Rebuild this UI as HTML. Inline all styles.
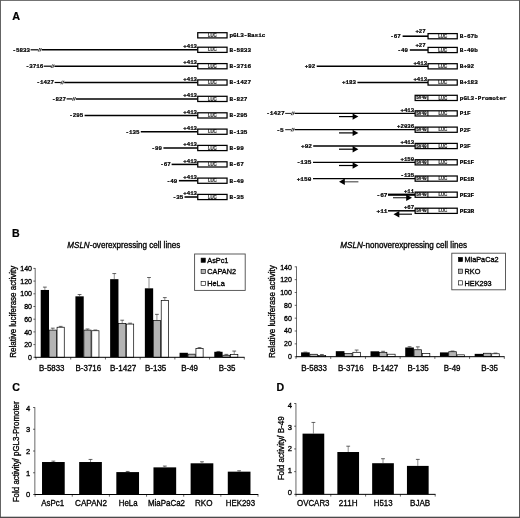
<!DOCTYPE html>
<html lang="en">
<head>
<meta charset="utf-8">
<title>MSLN promoter constructs and luciferase activity</title>
<style>
html,body{margin:0;padding:0;background:#fff;}
body{width:520px;height:518px;overflow:hidden;}
#fig{position:relative;width:520px;height:518px;background:#fff;}
svg{position:absolute;left:0;top:0;display:block;}
text{font-family:"Liberation Sans", sans-serif;fill:#000;stroke:#000;stroke-width:0.2px;}
text.h{stroke-width:0.32px;}
text.m{font-family:"Liberation Mono", monospace;stroke:#000;stroke-width:0.22px;}
</style>
</head>
<body>
<div id="fig">
<svg width="520" height="518" viewBox="0 0 520 518">
<rect x="197.75" y="32.70" width="29.30" height="5.20" fill="#fff" stroke="#000" stroke-width="1.25"/>
<text x="212.40" y="36.95" font-size="4.8" text-anchor="middle" textLength="8.80" lengthAdjust="spacingAndGlyphs" fill="#777">LUC</text>
<line x1="207.80" y1="35.70" x2="217.00" y2="35.70" stroke="#999" stroke-width="0.6"/>
<text x="229.40" y="37.20" font-size="6.0" class="m" font-weight="bold" textLength="36.00" lengthAdjust="spacingAndGlyphs">pGL3-Basic</text>
<text x="30.00" y="51.70" font-size="6.0" text-anchor="end" class="m" font-weight="bold" textLength="17.50" lengthAdjust="spacingAndGlyphs">-5833</text>
<line x1="30.60" y1="49.80" x2="38.20" y2="49.80" stroke="#000" stroke-width="1.2"/>
<line x1="38.30" y1="51.60" x2="39.70" y2="48.00" stroke="#000" stroke-width="0.8"/>
<line x1="39.90" y1="51.60" x2="41.30" y2="48.00" stroke="#000" stroke-width="0.8"/>
<line x1="41.60" y1="49.80" x2="197.70" y2="49.80" stroke="#000" stroke-width="1.55"/>
<text x="197.00" y="48.00" font-size="6.0" text-anchor="end" class="m" font-weight="bold" textLength="13.68" lengthAdjust="spacingAndGlyphs">+413</text>
<rect x="197.75" y="47.20" width="29.30" height="5.20" fill="#fff" stroke="#000" stroke-width="1.25"/>
<text x="212.40" y="51.45" font-size="4.8" text-anchor="middle" textLength="8.80" lengthAdjust="spacingAndGlyphs" fill="#777">LUC</text>
<line x1="207.80" y1="50.20" x2="217.00" y2="50.20" stroke="#999" stroke-width="0.6"/>
<text x="229.40" y="51.70" font-size="6.0" class="m" font-weight="bold" textLength="21.60" lengthAdjust="spacingAndGlyphs">B-5833</text>
<text x="43.20" y="68.10" font-size="6.0" text-anchor="end" class="m" font-weight="bold" textLength="17.50" lengthAdjust="spacingAndGlyphs">-3716</text>
<line x1="43.70" y1="66.20" x2="51.00" y2="66.20" stroke="#000" stroke-width="1.2"/>
<line x1="51.10" y1="68.00" x2="52.50" y2="64.40" stroke="#000" stroke-width="0.8"/>
<line x1="52.70" y1="68.00" x2="54.10" y2="64.40" stroke="#000" stroke-width="0.8"/>
<line x1="54.40" y1="66.20" x2="197.70" y2="66.20" stroke="#000" stroke-width="1.55"/>
<text x="197.00" y="64.40" font-size="6.0" text-anchor="end" class="m" font-weight="bold" textLength="13.68" lengthAdjust="spacingAndGlyphs">+413</text>
<rect x="197.75" y="63.60" width="29.30" height="5.20" fill="#fff" stroke="#000" stroke-width="1.25"/>
<text x="212.40" y="67.85" font-size="4.8" text-anchor="middle" textLength="8.80" lengthAdjust="spacingAndGlyphs" fill="#777">LUC</text>
<line x1="207.80" y1="66.60" x2="217.00" y2="66.60" stroke="#999" stroke-width="0.6"/>
<text x="229.40" y="68.10" font-size="6.0" class="m" font-weight="bold" textLength="21.60" lengthAdjust="spacingAndGlyphs">B-3716</text>
<text x="54.00" y="84.40" font-size="6.0" text-anchor="end" class="m" font-weight="bold" textLength="17.50" lengthAdjust="spacingAndGlyphs">-1427</text>
<line x1="54.60" y1="82.50" x2="60.80" y2="82.50" stroke="#000" stroke-width="1.2"/>
<line x1="60.90" y1="84.30" x2="62.30" y2="80.70" stroke="#000" stroke-width="0.8"/>
<line x1="62.50" y1="84.30" x2="63.90" y2="80.70" stroke="#000" stroke-width="0.8"/>
<line x1="64.20" y1="82.50" x2="197.70" y2="82.50" stroke="#000" stroke-width="1.55"/>
<text x="197.00" y="80.70" font-size="6.0" text-anchor="end" class="m" font-weight="bold" textLength="13.68" lengthAdjust="spacingAndGlyphs">+413</text>
<rect x="197.75" y="79.90" width="29.30" height="5.20" fill="#fff" stroke="#000" stroke-width="1.25"/>
<text x="212.40" y="84.15" font-size="4.8" text-anchor="middle" textLength="8.80" lengthAdjust="spacingAndGlyphs" fill="#777">LUC</text>
<line x1="207.80" y1="82.90" x2="217.00" y2="82.90" stroke="#999" stroke-width="0.6"/>
<text x="229.40" y="84.40" font-size="6.0" class="m" font-weight="bold" textLength="21.60" lengthAdjust="spacingAndGlyphs">B-1427</text>
<text x="66.00" y="100.80" font-size="6.0" text-anchor="end" class="m" font-weight="bold" textLength="14.00" lengthAdjust="spacingAndGlyphs">-827</text>
<line x1="66.60" y1="98.90" x2="72.40" y2="98.90" stroke="#000" stroke-width="1.2"/>
<line x1="72.50" y1="100.70" x2="73.90" y2="97.10" stroke="#000" stroke-width="0.8"/>
<line x1="74.10" y1="100.70" x2="75.50" y2="97.10" stroke="#000" stroke-width="0.8"/>
<line x1="75.80" y1="98.90" x2="197.70" y2="98.90" stroke="#000" stroke-width="1.55"/>
<text x="197.00" y="97.10" font-size="6.0" text-anchor="end" class="m" font-weight="bold" textLength="13.68" lengthAdjust="spacingAndGlyphs">+413</text>
<rect x="197.75" y="96.30" width="29.30" height="5.20" fill="#fff" stroke="#000" stroke-width="1.25"/>
<text x="212.40" y="100.55" font-size="4.8" text-anchor="middle" textLength="8.80" lengthAdjust="spacingAndGlyphs" fill="#777">LUC</text>
<line x1="207.80" y1="99.30" x2="217.00" y2="99.30" stroke="#999" stroke-width="0.6"/>
<text x="229.40" y="100.80" font-size="6.0" class="m" font-weight="bold" textLength="18.00" lengthAdjust="spacingAndGlyphs">B-827</text>
<text x="83.30" y="117.30" font-size="6.0" text-anchor="end" class="m" font-weight="bold" textLength="14.00" lengthAdjust="spacingAndGlyphs">-295</text>
<line x1="84.60" y1="115.40" x2="197.70" y2="115.40" stroke="#000" stroke-width="1.55"/>
<text x="197.00" y="113.60" font-size="6.0" text-anchor="end" class="m" font-weight="bold" textLength="13.68" lengthAdjust="spacingAndGlyphs">+413</text>
<rect x="197.75" y="112.80" width="29.30" height="5.20" fill="#fff" stroke="#000" stroke-width="1.25"/>
<text x="212.40" y="117.05" font-size="4.8" text-anchor="middle" textLength="8.80" lengthAdjust="spacingAndGlyphs" fill="#777">LUC</text>
<line x1="207.80" y1="115.80" x2="217.00" y2="115.80" stroke="#999" stroke-width="0.6"/>
<text x="229.40" y="117.30" font-size="6.0" class="m" font-weight="bold" textLength="18.00" lengthAdjust="spacingAndGlyphs">B-295</text>
<text x="139.60" y="133.60" font-size="6.0" text-anchor="end" class="m" font-weight="bold" textLength="14.00" lengthAdjust="spacingAndGlyphs">-135</text>
<line x1="140.80" y1="131.70" x2="197.70" y2="131.70" stroke="#000" stroke-width="1.55"/>
<text x="197.00" y="129.90" font-size="6.0" text-anchor="end" class="m" font-weight="bold" textLength="13.68" lengthAdjust="spacingAndGlyphs">+413</text>
<rect x="197.75" y="129.10" width="29.30" height="5.20" fill="#fff" stroke="#000" stroke-width="1.25"/>
<text x="212.40" y="133.35" font-size="4.8" text-anchor="middle" textLength="8.80" lengthAdjust="spacingAndGlyphs" fill="#777">LUC</text>
<line x1="207.80" y1="132.10" x2="217.00" y2="132.10" stroke="#999" stroke-width="0.6"/>
<text x="229.40" y="133.60" font-size="6.0" class="m" font-weight="bold" textLength="18.00" lengthAdjust="spacingAndGlyphs">B-135</text>
<text x="162.10" y="149.90" font-size="6.0" text-anchor="end" class="m" font-weight="bold" textLength="10.50" lengthAdjust="spacingAndGlyphs">-99</text>
<line x1="163.40" y1="148.00" x2="197.70" y2="148.00" stroke="#000" stroke-width="1.55"/>
<text x="197.00" y="146.20" font-size="6.0" text-anchor="end" class="m" font-weight="bold" textLength="13.68" lengthAdjust="spacingAndGlyphs">+413</text>
<rect x="197.75" y="145.40" width="29.30" height="5.20" fill="#fff" stroke="#000" stroke-width="1.25"/>
<text x="212.40" y="149.65" font-size="4.8" text-anchor="middle" textLength="8.80" lengthAdjust="spacingAndGlyphs" fill="#777">LUC</text>
<line x1="207.80" y1="148.40" x2="217.00" y2="148.40" stroke="#999" stroke-width="0.6"/>
<text x="229.40" y="149.90" font-size="6.0" class="m" font-weight="bold" textLength="14.40" lengthAdjust="spacingAndGlyphs">B-99</text>
<text x="170.70" y="166.30" font-size="6.0" text-anchor="end" class="m" font-weight="bold" textLength="10.50" lengthAdjust="spacingAndGlyphs">-67</text>
<line x1="171.60" y1="164.40" x2="197.70" y2="164.40" stroke="#000" stroke-width="1.55"/>
<text x="197.00" y="162.60" font-size="6.0" text-anchor="end" class="m" font-weight="bold" textLength="13.68" lengthAdjust="spacingAndGlyphs">+413</text>
<rect x="197.75" y="161.80" width="29.30" height="5.20" fill="#fff" stroke="#000" stroke-width="1.25"/>
<text x="212.40" y="166.05" font-size="4.8" text-anchor="middle" textLength="8.80" lengthAdjust="spacingAndGlyphs" fill="#777">LUC</text>
<line x1="207.80" y1="164.80" x2="217.00" y2="164.80" stroke="#999" stroke-width="0.6"/>
<text x="229.40" y="166.30" font-size="6.0" class="m" font-weight="bold" textLength="14.40" lengthAdjust="spacingAndGlyphs">B-67</text>
<text x="177.20" y="182.60" font-size="6.0" text-anchor="end" class="m" font-weight="bold" textLength="10.50" lengthAdjust="spacingAndGlyphs">-49</text>
<line x1="178.90" y1="180.70" x2="197.70" y2="180.70" stroke="#000" stroke-width="1.55"/>
<text x="197.00" y="178.90" font-size="6.0" text-anchor="end" class="m" font-weight="bold" textLength="13.68" lengthAdjust="spacingAndGlyphs">+413</text>
<rect x="197.75" y="178.10" width="29.30" height="5.20" fill="#fff" stroke="#000" stroke-width="1.25"/>
<text x="212.40" y="182.35" font-size="4.8" text-anchor="middle" textLength="8.80" lengthAdjust="spacingAndGlyphs" fill="#777">LUC</text>
<line x1="207.80" y1="181.10" x2="217.00" y2="181.10" stroke="#999" stroke-width="0.6"/>
<text x="229.40" y="182.60" font-size="6.0" class="m" font-weight="bold" textLength="14.40" lengthAdjust="spacingAndGlyphs">B-49</text>
<text x="183.20" y="198.90" font-size="6.0" text-anchor="end" class="m" font-weight="bold" textLength="10.50" lengthAdjust="spacingAndGlyphs">-35</text>
<line x1="184.50" y1="197.00" x2="197.70" y2="197.00" stroke="#000" stroke-width="1.55"/>
<text x="197.00" y="195.20" font-size="6.0" text-anchor="end" class="m" font-weight="bold" textLength="13.68" lengthAdjust="spacingAndGlyphs">+413</text>
<rect x="197.75" y="194.40" width="29.30" height="5.20" fill="#fff" stroke="#000" stroke-width="1.25"/>
<text x="212.40" y="198.65" font-size="4.8" text-anchor="middle" textLength="8.80" lengthAdjust="spacingAndGlyphs" fill="#777">LUC</text>
<line x1="207.80" y1="197.40" x2="217.00" y2="197.40" stroke="#999" stroke-width="0.6"/>
<text x="229.40" y="198.90" font-size="6.0" class="m" font-weight="bold" textLength="14.40" lengthAdjust="spacingAndGlyphs">B-35</text>
<text x="400.70" y="38.10" font-size="6.0" text-anchor="end" class="m" font-weight="bold" textLength="10.50" lengthAdjust="spacingAndGlyphs">-67</text>
<line x1="402.60" y1="36.20" x2="428.00" y2="36.20" stroke="#000" stroke-width="1.55"/>
<text x="425.70" y="33.00" font-size="6.0" text-anchor="end" class="m" font-weight="bold" textLength="10.26" lengthAdjust="spacingAndGlyphs">+27</text>
<rect x="428.05" y="33.60" width="29.20" height="5.20" fill="#fff" stroke="#000" stroke-width="1.25"/>
<text x="442.65" y="37.85" font-size="4.8" text-anchor="middle" textLength="8.80" lengthAdjust="spacingAndGlyphs" fill="#777">LUC</text>
<line x1="438.05" y1="36.60" x2="447.25" y2="36.60" stroke="#999" stroke-width="0.6"/>
<text x="459.80" y="38.10" font-size="6.0" class="m" font-weight="bold" textLength="18.00" lengthAdjust="spacingAndGlyphs">B-67b</text>
<text x="408.00" y="51.90" font-size="6.0" text-anchor="end" class="m" font-weight="bold" textLength="10.50" lengthAdjust="spacingAndGlyphs">-49</text>
<line x1="409.80" y1="50.00" x2="428.00" y2="50.00" stroke="#000" stroke-width="1.55"/>
<text x="425.70" y="46.80" font-size="6.0" text-anchor="end" class="m" font-weight="bold" textLength="10.26" lengthAdjust="spacingAndGlyphs">+27</text>
<rect x="428.05" y="47.40" width="29.20" height="5.20" fill="#fff" stroke="#000" stroke-width="1.25"/>
<text x="442.65" y="51.65" font-size="4.8" text-anchor="middle" textLength="8.80" lengthAdjust="spacingAndGlyphs" fill="#777">LUC</text>
<line x1="438.05" y1="50.40" x2="447.25" y2="50.40" stroke="#999" stroke-width="0.6"/>
<text x="459.80" y="51.90" font-size="6.0" class="m" font-weight="bold" textLength="18.00" lengthAdjust="spacingAndGlyphs">B-49b</text>
<text x="315.20" y="68.20" font-size="6.0" text-anchor="end" class="m" font-weight="bold" textLength="10.50" lengthAdjust="spacingAndGlyphs">+92</text>
<line x1="316.70" y1="66.30" x2="428.00" y2="66.30" stroke="#000" stroke-width="1.55"/>
<text x="427.10" y="64.50" font-size="6.0" text-anchor="end" class="m" font-weight="bold" textLength="13.68" lengthAdjust="spacingAndGlyphs">+413</text>
<rect x="428.05" y="63.70" width="29.20" height="5.20" fill="#fff" stroke="#000" stroke-width="1.25"/>
<text x="442.65" y="67.95" font-size="4.8" text-anchor="middle" textLength="8.80" lengthAdjust="spacingAndGlyphs" fill="#777">LUC</text>
<line x1="438.05" y1="66.70" x2="447.25" y2="66.70" stroke="#999" stroke-width="0.6"/>
<text x="459.80" y="68.20" font-size="6.0" class="m" font-weight="bold" textLength="14.40" lengthAdjust="spacingAndGlyphs">B+92</text>
<text x="355.90" y="84.40" font-size="6.0" text-anchor="end" class="m" font-weight="bold" textLength="14.00" lengthAdjust="spacingAndGlyphs">+183</text>
<line x1="357.40" y1="82.50" x2="428.00" y2="82.50" stroke="#000" stroke-width="1.55"/>
<text x="427.10" y="80.70" font-size="6.0" text-anchor="end" class="m" font-weight="bold" textLength="13.68" lengthAdjust="spacingAndGlyphs">+413</text>
<rect x="428.05" y="79.90" width="29.20" height="5.20" fill="#fff" stroke="#000" stroke-width="1.25"/>
<text x="442.65" y="84.15" font-size="4.8" text-anchor="middle" textLength="8.80" lengthAdjust="spacingAndGlyphs" fill="#777">LUC</text>
<line x1="438.05" y1="82.90" x2="447.25" y2="82.90" stroke="#999" stroke-width="0.6"/>
<text x="459.80" y="84.40" font-size="6.0" class="m" font-weight="bold" textLength="18.00" lengthAdjust="spacingAndGlyphs">B+183</text>
<rect x="415.15" y="95.30" width="42.10" height="5.20" fill="#fff" stroke="#000" stroke-width="1.25"/>
<line x1="427.90" y1="95.30" x2="427.90" y2="100.50" stroke="#000" stroke-width="1"/>
<text x="421.45" y="99.45" font-size="4.7" text-anchor="middle" class="m" font-weight="bold" textLength="10.60" lengthAdjust="spacingAndGlyphs" fill="#111" style="stroke-width:0.12px">SV40</text>
<text x="442.85" y="99.55" font-size="4.8" text-anchor="middle" textLength="8.80" lengthAdjust="spacingAndGlyphs" fill="#777">LUC</text>
<line x1="438.25" y1="98.30" x2="447.45" y2="98.30" stroke="#999" stroke-width="0.6"/>
<text x="459.80" y="99.80" font-size="6.0" class="m" font-weight="bold" textLength="46.80" lengthAdjust="spacingAndGlyphs">pGL3-Promoter</text>
<text x="284.60" y="115.30" font-size="6.0" text-anchor="end" class="m" font-weight="bold" textLength="18.40" lengthAdjust="spacingAndGlyphs">-1427</text>
<line x1="285.20" y1="113.40" x2="291.10" y2="113.40" stroke="#000" stroke-width="0.9"/>
<line x1="291.20" y1="115.20" x2="292.60" y2="111.60" stroke="#000" stroke-width="0.8"/>
<line x1="292.80" y1="115.20" x2="294.20" y2="111.60" stroke="#000" stroke-width="0.8"/>
<line x1="294.50" y1="113.40" x2="415.10" y2="113.40" stroke="#000" stroke-width="1.3"/>
<text x="414.20" y="111.60" font-size="6.0" text-anchor="end" class="m" font-weight="bold" textLength="13.68" lengthAdjust="spacingAndGlyphs">+413</text>
<line x1="339.00" y1="116.60" x2="354.40" y2="116.60" stroke="#000" stroke-width="1.2"/>
<path d="M358.40 116.60 L352.60 113.40 L352.60 119.80 Z" fill="#000"/>
<rect x="415.15" y="110.80" width="42.10" height="5.20" fill="#fff" stroke="#000" stroke-width="1.25"/>
<line x1="427.90" y1="110.80" x2="427.90" y2="116.00" stroke="#000" stroke-width="1"/>
<text x="421.45" y="114.95" font-size="4.7" text-anchor="middle" class="m" font-weight="bold" textLength="10.60" lengthAdjust="spacingAndGlyphs" fill="#111" style="stroke-width:0.12px">SV40</text>
<text x="442.85" y="115.05" font-size="4.8" text-anchor="middle" textLength="8.80" lengthAdjust="spacingAndGlyphs" fill="#777">LUC</text>
<line x1="438.25" y1="113.80" x2="447.45" y2="113.80" stroke="#999" stroke-width="0.6"/>
<text x="459.80" y="115.30" font-size="6.0" class="m" font-weight="bold" textLength="10.80" lengthAdjust="spacingAndGlyphs">P1F</text>
<text x="283.80" y="131.60" font-size="6.0" text-anchor="end" class="m" font-weight="bold" textLength="7.36" lengthAdjust="spacingAndGlyphs">-5</text>
<line x1="285.20" y1="129.70" x2="291.10" y2="129.70" stroke="#000" stroke-width="0.9"/>
<line x1="291.20" y1="131.50" x2="292.60" y2="127.90" stroke="#000" stroke-width="0.8"/>
<line x1="292.80" y1="131.50" x2="294.20" y2="127.90" stroke="#000" stroke-width="0.8"/>
<line x1="294.50" y1="129.70" x2="415.10" y2="129.70" stroke="#000" stroke-width="1.3"/>
<text x="414.20" y="127.90" font-size="6.0" text-anchor="end" class="m" font-weight="bold" textLength="17.10" lengthAdjust="spacingAndGlyphs">+2036</text>
<line x1="339.00" y1="132.90" x2="354.40" y2="132.90" stroke="#000" stroke-width="1.2"/>
<path d="M358.40 132.90 L352.60 129.70 L352.60 136.10 Z" fill="#000"/>
<rect x="415.15" y="127.10" width="42.10" height="5.20" fill="#fff" stroke="#000" stroke-width="1.25"/>
<line x1="427.90" y1="127.10" x2="427.90" y2="132.30" stroke="#000" stroke-width="1"/>
<text x="421.45" y="131.25" font-size="4.7" text-anchor="middle" class="m" font-weight="bold" textLength="10.60" lengthAdjust="spacingAndGlyphs" fill="#111" style="stroke-width:0.12px">SV40</text>
<text x="442.85" y="131.35" font-size="4.8" text-anchor="middle" textLength="8.80" lengthAdjust="spacingAndGlyphs" fill="#777">LUC</text>
<line x1="438.25" y1="130.10" x2="447.45" y2="130.10" stroke="#999" stroke-width="0.6"/>
<text x="459.80" y="131.60" font-size="6.0" class="m" font-weight="bold" textLength="10.80" lengthAdjust="spacingAndGlyphs">P2F</text>
<text x="312.00" y="147.90" font-size="6.0" text-anchor="end" class="m" font-weight="bold" textLength="11.04" lengthAdjust="spacingAndGlyphs">+92</text>
<line x1="313.20" y1="146.00" x2="415.10" y2="146.00" stroke="#000" stroke-width="1.3"/>
<text x="414.20" y="144.20" font-size="6.0" text-anchor="end" class="m" font-weight="bold" textLength="13.68" lengthAdjust="spacingAndGlyphs">+413</text>
<line x1="339.00" y1="149.20" x2="354.40" y2="149.20" stroke="#000" stroke-width="1.2"/>
<path d="M358.40 149.20 L352.60 146.00 L352.60 152.40 Z" fill="#000"/>
<rect x="415.15" y="143.40" width="42.10" height="5.20" fill="#fff" stroke="#000" stroke-width="1.25"/>
<line x1="427.90" y1="143.40" x2="427.90" y2="148.60" stroke="#000" stroke-width="1"/>
<text x="421.45" y="147.55" font-size="4.7" text-anchor="middle" class="m" font-weight="bold" textLength="10.60" lengthAdjust="spacingAndGlyphs" fill="#111" style="stroke-width:0.12px">SV40</text>
<text x="442.85" y="147.65" font-size="4.8" text-anchor="middle" textLength="8.80" lengthAdjust="spacingAndGlyphs" fill="#777">LUC</text>
<line x1="438.25" y1="146.40" x2="447.45" y2="146.40" stroke="#999" stroke-width="0.6"/>
<text x="459.80" y="147.90" font-size="6.0" class="m" font-weight="bold" textLength="10.80" lengthAdjust="spacingAndGlyphs">P3F</text>
<text x="311.40" y="164.20" font-size="6.0" text-anchor="end" class="m" font-weight="bold" textLength="14.72" lengthAdjust="spacingAndGlyphs">-135</text>
<line x1="313.00" y1="162.30" x2="415.10" y2="162.30" stroke="#000" stroke-width="1.3"/>
<text x="414.20" y="160.50" font-size="6.0" text-anchor="end" class="m" font-weight="bold" textLength="13.68" lengthAdjust="spacingAndGlyphs">+150</text>
<line x1="339.00" y1="165.50" x2="354.40" y2="165.50" stroke="#000" stroke-width="1.2"/>
<path d="M358.40 165.50 L352.60 162.30 L352.60 168.70 Z" fill="#000"/>
<rect x="415.15" y="159.70" width="42.10" height="5.20" fill="#fff" stroke="#000" stroke-width="1.25"/>
<line x1="427.90" y1="159.70" x2="427.90" y2="164.90" stroke="#000" stroke-width="1"/>
<text x="421.45" y="163.85" font-size="4.7" text-anchor="middle" class="m" font-weight="bold" textLength="10.60" lengthAdjust="spacingAndGlyphs" fill="#111" style="stroke-width:0.12px">SV40</text>
<text x="442.85" y="163.95" font-size="4.8" text-anchor="middle" textLength="8.80" lengthAdjust="spacingAndGlyphs" fill="#777">LUC</text>
<line x1="438.25" y1="162.70" x2="447.45" y2="162.70" stroke="#999" stroke-width="0.6"/>
<text x="459.80" y="164.20" font-size="6.0" class="m" font-weight="bold" textLength="14.40" lengthAdjust="spacingAndGlyphs">PE1F</text>
<text x="311.40" y="180.50" font-size="6.0" text-anchor="end" class="m" font-weight="bold" textLength="14.72" lengthAdjust="spacingAndGlyphs">+150</text>
<line x1="313.00" y1="178.60" x2="415.10" y2="178.60" stroke="#000" stroke-width="1.3"/>
<text x="414.20" y="176.80" font-size="6.0" text-anchor="end" class="m" font-weight="bold" textLength="13.68" lengthAdjust="spacingAndGlyphs">-135</text>
<line x1="343.00" y1="181.80" x2="358.40" y2="181.80" stroke="#555" stroke-width="1.2"/>
<path d="M339.00 181.80 L344.80 178.60 L344.80 185.00 Z" fill="#000"/>
<rect x="415.15" y="176.00" width="42.10" height="5.20" fill="#fff" stroke="#000" stroke-width="1.25"/>
<line x1="427.90" y1="176.00" x2="427.90" y2="181.20" stroke="#000" stroke-width="1"/>
<text x="421.45" y="180.15" font-size="4.7" text-anchor="middle" class="m" font-weight="bold" textLength="10.60" lengthAdjust="spacingAndGlyphs" fill="#111" style="stroke-width:0.12px">SV40</text>
<text x="442.85" y="180.25" font-size="4.8" text-anchor="middle" textLength="8.80" lengthAdjust="spacingAndGlyphs" fill="#777">LUC</text>
<line x1="438.25" y1="179.00" x2="447.45" y2="179.00" stroke="#999" stroke-width="0.6"/>
<text x="459.80" y="180.50" font-size="6.0" class="m" font-weight="bold" textLength="14.40" lengthAdjust="spacingAndGlyphs">PE1R</text>
<text x="387.50" y="196.60" font-size="6.0" text-anchor="end" class="m" font-weight="bold" textLength="11.04" lengthAdjust="spacingAndGlyphs">-67</text>
<line x1="388.00" y1="194.70" x2="415.10" y2="194.70" stroke="#000" stroke-width="2.2"/>
<text x="414.20" y="192.90" font-size="6.0" text-anchor="end" class="m" font-weight="bold" textLength="10.26" lengthAdjust="spacingAndGlyphs">+11</text>
<line x1="393.00" y1="197.70" x2="408.00" y2="197.70" stroke="#333" stroke-width="1.2"/>
<path d="M412.00 197.70 L406.20 194.50 L406.20 200.90 Z" fill="#000"/>
<rect x="415.15" y="192.10" width="42.10" height="5.20" fill="#fff" stroke="#000" stroke-width="1.25"/>
<line x1="427.90" y1="192.10" x2="427.90" y2="197.30" stroke="#000" stroke-width="1"/>
<text x="421.45" y="196.25" font-size="4.7" text-anchor="middle" class="m" font-weight="bold" textLength="10.60" lengthAdjust="spacingAndGlyphs" fill="#111" style="stroke-width:0.12px">SV40</text>
<text x="442.85" y="196.35" font-size="4.8" text-anchor="middle" textLength="8.80" lengthAdjust="spacingAndGlyphs" fill="#777">LUC</text>
<line x1="438.25" y1="195.10" x2="447.45" y2="195.10" stroke="#999" stroke-width="0.6"/>
<text x="459.80" y="196.60" font-size="6.0" class="m" font-weight="bold" textLength="14.40" lengthAdjust="spacingAndGlyphs">PE3F</text>
<text x="387.50" y="212.70" font-size="6.0" text-anchor="end" class="m" font-weight="bold" textLength="11.04" lengthAdjust="spacingAndGlyphs">+11</text>
<line x1="388.00" y1="210.80" x2="415.10" y2="210.80" stroke="#000" stroke-width="1.5"/>
<text x="414.20" y="209.00" font-size="6.0" text-anchor="end" class="m" font-weight="bold" textLength="10.26" lengthAdjust="spacingAndGlyphs">+67</text>
<line x1="397.50" y1="214.20" x2="412.00" y2="214.20" stroke="#111" stroke-width="1.2"/>
<path d="M393.50 214.20 L399.30 211.00 L399.30 217.40 Z" fill="#000"/>
<rect x="415.15" y="208.20" width="42.10" height="5.20" fill="#fff" stroke="#000" stroke-width="1.25"/>
<line x1="427.90" y1="208.20" x2="427.90" y2="213.40" stroke="#000" stroke-width="1"/>
<text x="421.45" y="212.35" font-size="4.7" text-anchor="middle" class="m" font-weight="bold" textLength="10.60" lengthAdjust="spacingAndGlyphs" fill="#111" style="stroke-width:0.12px">SV40</text>
<text x="442.85" y="212.45" font-size="4.8" text-anchor="middle" textLength="8.80" lengthAdjust="spacingAndGlyphs" fill="#777">LUC</text>
<line x1="438.25" y1="211.20" x2="447.45" y2="211.20" stroke="#999" stroke-width="0.6"/>
<text x="459.80" y="212.70" font-size="6.0" class="m" font-weight="bold" textLength="14.40" lengthAdjust="spacingAndGlyphs">PE3R</text>
<text x="12.20" y="19.85" font-size="10.8" font-weight="bold">A</text>
<text x="12.00" y="237.00" font-size="10.6" font-weight="bold">B</text>
<text x="12.30" y="390.60" font-size="10.6" font-weight="bold">C</text>
<text x="276.50" y="390.70" font-size="10.6" font-weight="bold">D</text>
<rect x="40.71" y="289.97" width="8.30" height="67.33" fill="#000"/>
<line x1="44.86" y1="289.97" x2="44.86" y2="287.11" stroke="#444" stroke-width="0.6"/>
<line x1="42.96" y1="287.11" x2="46.76" y2="287.11" stroke="#222" stroke-width="0.7"/>
<rect x="49.16" y="330.10" width="7.20" height="27.20" fill="#b4b4b4" stroke="#000" stroke-width="0.7"/>
<line x1="52.76" y1="329.75" x2="52.76" y2="328.16" stroke="#444" stroke-width="0.6"/>
<line x1="50.86" y1="328.16" x2="54.66" y2="328.16" stroke="#222" stroke-width="0.7"/>
<rect x="57.06" y="327.24" width="7.20" height="30.06" fill="#fff" stroke="#000" stroke-width="0.7"/>
<line x1="60.66" y1="326.89" x2="60.66" y2="326.38" stroke="#444" stroke-width="0.6"/>
<line x1="58.76" y1="326.38" x2="62.56" y2="326.38" stroke="#222" stroke-width="0.7"/>
<rect x="75.42" y="296.34" width="8.30" height="60.96" fill="#000"/>
<line x1="79.58" y1="296.34" x2="79.58" y2="294.56" stroke="#444" stroke-width="0.6"/>
<line x1="77.67" y1="294.56" x2="81.48" y2="294.56" stroke="#222" stroke-width="0.7"/>
<rect x="83.88" y="330.10" width="7.20" height="27.20" fill="#b4b4b4" stroke="#000" stroke-width="0.7"/>
<line x1="87.48" y1="329.75" x2="87.48" y2="328.99" stroke="#444" stroke-width="0.6"/>
<line x1="85.58" y1="328.99" x2="89.38" y2="328.99" stroke="#222" stroke-width="0.7"/>
<rect x="91.77" y="330.74" width="7.20" height="26.56" fill="#fff" stroke="#000" stroke-width="0.7"/>
<line x1="95.38" y1="330.39" x2="95.38" y2="330.01" stroke="#444" stroke-width="0.6"/>
<line x1="93.47" y1="330.01" x2="97.28" y2="330.01" stroke="#222" stroke-width="0.7"/>
<rect x="110.14" y="279.16" width="8.30" height="78.14" fill="#000"/>
<line x1="114.29" y1="279.16" x2="114.29" y2="273.55" stroke="#444" stroke-width="0.6"/>
<line x1="112.39" y1="273.55" x2="116.19" y2="273.55" stroke="#222" stroke-width="0.7"/>
<rect x="118.59" y="323.42" width="7.20" height="33.88" fill="#b4b4b4" stroke="#000" stroke-width="0.7"/>
<line x1="122.19" y1="323.07" x2="122.19" y2="320.21" stroke="#444" stroke-width="0.6"/>
<line x1="120.29" y1="320.21" x2="124.09" y2="320.21" stroke="#222" stroke-width="0.7"/>
<rect x="126.49" y="324.06" width="7.20" height="33.24" fill="#fff" stroke="#000" stroke-width="0.7"/>
<line x1="130.09" y1="323.71" x2="130.09" y2="323.20" stroke="#444" stroke-width="0.6"/>
<line x1="128.19" y1="323.20" x2="131.99" y2="323.20" stroke="#222" stroke-width="0.7"/>
<rect x="144.86" y="288.32" width="8.30" height="68.98" fill="#000"/>
<line x1="149.01" y1="288.32" x2="149.01" y2="277.50" stroke="#444" stroke-width="0.6"/>
<line x1="147.11" y1="277.50" x2="150.91" y2="277.50" stroke="#222" stroke-width="0.7"/>
<rect x="153.31" y="320.43" width="7.20" height="36.87" fill="#b4b4b4" stroke="#000" stroke-width="0.7"/>
<line x1="156.91" y1="320.08" x2="156.91" y2="314.35" stroke="#444" stroke-width="0.6"/>
<line x1="155.01" y1="314.35" x2="158.81" y2="314.35" stroke="#222" stroke-width="0.7"/>
<rect x="161.21" y="300.51" width="7.20" height="56.79" fill="#fff" stroke="#000" stroke-width="0.7"/>
<line x1="164.81" y1="300.16" x2="164.81" y2="297.61" stroke="#444" stroke-width="0.6"/>
<line x1="162.91" y1="297.61" x2="166.71" y2="297.61" stroke="#222" stroke-width="0.7"/>
<rect x="179.58" y="352.79" width="8.30" height="4.51" fill="#000"/>
<rect x="188.03" y="354.16" width="7.20" height="3.14" fill="#b4b4b4" stroke="#000" stroke-width="0.7"/>
<rect x="195.93" y="348.37" width="7.20" height="8.93" fill="#fff" stroke="#000" stroke-width="0.7"/>
<line x1="199.53" y1="348.02" x2="199.53" y2="347.64" stroke="#444" stroke-width="0.6"/>
<line x1="197.62" y1="347.64" x2="201.43" y2="347.64" stroke="#222" stroke-width="0.7"/>
<rect x="214.29" y="351.77" width="8.30" height="5.53" fill="#000"/>
<line x1="218.44" y1="351.77" x2="218.44" y2="351.45" stroke="#444" stroke-width="0.6"/>
<line x1="216.54" y1="351.45" x2="220.34" y2="351.45" stroke="#222" stroke-width="0.7"/>
<rect x="222.74" y="355.24" width="7.20" height="2.06" fill="#b4b4b4" stroke="#000" stroke-width="0.7"/>
<line x1="226.34" y1="354.89" x2="226.34" y2="354.38" stroke="#444" stroke-width="0.6"/>
<line x1="224.44" y1="354.38" x2="228.24" y2="354.38" stroke="#222" stroke-width="0.7"/>
<rect x="230.64" y="354.60" width="7.20" height="2.70" fill="#fff" stroke="#000" stroke-width="0.7"/>
<line x1="234.24" y1="354.25" x2="234.24" y2="351.07" stroke="#444" stroke-width="0.6"/>
<line x1="232.34" y1="351.07" x2="236.14" y2="351.07" stroke="#222" stroke-width="0.7"/>
<line x1="35.20" y1="268.10" x2="35.20" y2="357.80" stroke="#444" stroke-width="0.8"/>
<line x1="34.80" y1="357.30" x2="244.60" y2="357.30" stroke="#000" stroke-width="1.0"/>
<line x1="33.40" y1="357.30" x2="35.20" y2="357.30" stroke="#222" stroke-width="0.7"/>
<text x="32.00" y="359.96" font-size="7.0" text-anchor="end" class="h">0</text>
<line x1="33.40" y1="344.60" x2="35.20" y2="344.60" stroke="#222" stroke-width="0.7"/>
<text x="32.00" y="347.25" font-size="7.0" text-anchor="end" class="h">20</text>
<line x1="33.40" y1="331.90" x2="35.20" y2="331.90" stroke="#222" stroke-width="0.7"/>
<text x="32.00" y="334.54" font-size="7.0" text-anchor="end" class="h">40</text>
<line x1="33.40" y1="319.20" x2="35.20" y2="319.20" stroke="#222" stroke-width="0.7"/>
<text x="32.00" y="321.83" font-size="7.0" text-anchor="end" class="h">60</text>
<line x1="33.40" y1="306.50" x2="35.20" y2="306.50" stroke="#222" stroke-width="0.7"/>
<text x="32.00" y="309.13" font-size="7.0" text-anchor="end" class="h">80</text>
<line x1="33.40" y1="293.80" x2="35.20" y2="293.80" stroke="#222" stroke-width="0.7"/>
<text x="32.00" y="296.42" font-size="7.0" text-anchor="end" class="h">100</text>
<line x1="33.40" y1="281.10" x2="35.20" y2="281.10" stroke="#222" stroke-width="0.7"/>
<text x="32.00" y="283.71" font-size="7.0" text-anchor="end" class="h">120</text>
<line x1="33.40" y1="268.40" x2="35.20" y2="268.40" stroke="#222" stroke-width="0.7"/>
<text x="32.00" y="271.01" font-size="7.0" text-anchor="end" class="h">140</text>
<line x1="36.00" y1="357.30" x2="36.00" y2="359.50" stroke="#000" stroke-width="0.6"/>
<line x1="70.72" y1="357.30" x2="70.72" y2="359.50" stroke="#000" stroke-width="0.6"/>
<line x1="105.43" y1="357.30" x2="105.43" y2="359.50" stroke="#000" stroke-width="0.6"/>
<line x1="140.15" y1="357.30" x2="140.15" y2="359.50" stroke="#000" stroke-width="0.6"/>
<line x1="174.87" y1="357.30" x2="174.87" y2="359.50" stroke="#000" stroke-width="0.6"/>
<line x1="209.58" y1="357.30" x2="209.58" y2="359.50" stroke="#000" stroke-width="0.6"/>
<line x1="244.30" y1="357.30" x2="244.30" y2="359.50" stroke="#000" stroke-width="0.6"/>
<text x="39.00" y="371.25" font-size="8.6" textLength="25.50" lengthAdjust="spacingAndGlyphs" class="h">B-5833</text>
<text x="75.50" y="371.25" font-size="8.6" textLength="25.75" lengthAdjust="spacingAndGlyphs" class="h">B-3716</text>
<text x="110.00" y="371.25" font-size="8.6" textLength="26.25" lengthAdjust="spacingAndGlyphs" class="h">B-1427</text>
<text x="145.00" y="371.25" font-size="8.6" textLength="21.25" lengthAdjust="spacingAndGlyphs" class="h">B-135</text>
<text x="181.25" y="371.25" font-size="8.6" textLength="16.75" lengthAdjust="spacingAndGlyphs" class="h">B-49</text>
<text x="218.75" y="371.25" font-size="8.6" textLength="16.75" lengthAdjust="spacingAndGlyphs" class="h">B-35</text>
<text x="15.70" y="311.80" font-size="8.3" text-anchor="middle" textLength="91.90" lengthAdjust="spacingAndGlyphs" transform="rotate(-90 15.70 311.80)" class="h">Relative luciferase activity</text>
<rect x="301.08" y="352.39" width="8.65" height="4.31" fill="#000"/>
<line x1="305.41" y1="352.39" x2="305.41" y2="352.14" stroke="#444" stroke-width="0.6"/>
<line x1="303.51" y1="352.14" x2="307.31" y2="352.14" stroke="#222" stroke-width="0.7"/>
<rect x="309.88" y="354.27" width="7.55" height="2.43" fill="#b4b4b4" stroke="#000" stroke-width="0.7"/>
<rect x="318.13" y="355.48" width="7.55" height="1.22" fill="#fff" stroke="#000" stroke-width="0.7"/>
<line x1="321.91" y1="355.13" x2="321.91" y2="354.49" stroke="#444" stroke-width="0.6"/>
<line x1="320.01" y1="354.49" x2="323.81" y2="354.49" stroke="#222" stroke-width="0.7"/>
<rect x="335.80" y="351.18" width="8.65" height="5.52" fill="#000"/>
<rect x="344.60" y="353.57" width="7.55" height="3.13" fill="#b4b4b4" stroke="#000" stroke-width="0.7"/>
<rect x="352.85" y="352.30" width="7.55" height="4.40" fill="#fff" stroke="#000" stroke-width="0.7"/>
<line x1="356.63" y1="351.95" x2="356.63" y2="350.04" stroke="#444" stroke-width="0.6"/>
<line x1="354.73" y1="350.04" x2="358.53" y2="350.04" stroke="#222" stroke-width="0.7"/>
<rect x="370.52" y="351.31" width="8.65" height="5.39" fill="#000"/>
<rect x="379.32" y="352.30" width="7.55" height="4.40" fill="#b4b4b4" stroke="#000" stroke-width="0.7"/>
<line x1="383.09" y1="351.95" x2="383.09" y2="351.31" stroke="#444" stroke-width="0.6"/>
<line x1="381.19" y1="351.31" x2="384.99" y2="351.31" stroke="#222" stroke-width="0.7"/>
<rect x="387.57" y="354.21" width="7.55" height="2.49" fill="#fff" stroke="#000" stroke-width="0.7"/>
<rect x="405.23" y="347.50" width="8.65" height="9.20" fill="#000"/>
<line x1="409.56" y1="347.50" x2="409.56" y2="346.73" stroke="#444" stroke-width="0.6"/>
<line x1="407.66" y1="346.73" x2="411.46" y2="346.73" stroke="#222" stroke-width="0.7"/>
<rect x="414.03" y="349.75" width="7.55" height="6.95" fill="#b4b4b4" stroke="#000" stroke-width="0.7"/>
<line x1="417.81" y1="349.40" x2="417.81" y2="346.86" stroke="#444" stroke-width="0.6"/>
<line x1="415.91" y1="346.86" x2="419.71" y2="346.86" stroke="#222" stroke-width="0.7"/>
<rect x="422.28" y="353.57" width="7.55" height="3.13" fill="#fff" stroke="#000" stroke-width="0.7"/>
<rect x="439.95" y="352.39" width="8.65" height="4.31" fill="#000"/>
<rect x="448.75" y="351.73" width="7.55" height="4.97" fill="#b4b4b4" stroke="#000" stroke-width="0.7"/>
<line x1="452.53" y1="351.38" x2="452.53" y2="351.06" stroke="#444" stroke-width="0.6"/>
<line x1="450.63" y1="351.06" x2="454.43" y2="351.06" stroke="#222" stroke-width="0.7"/>
<rect x="457.00" y="354.84" width="7.55" height="1.86" fill="#fff" stroke="#000" stroke-width="0.7"/>
<rect x="474.67" y="353.86" width="8.65" height="2.84" fill="#000"/>
<rect x="483.47" y="353.25" width="7.55" height="3.45" fill="#b4b4b4" stroke="#000" stroke-width="0.7"/>
<rect x="491.72" y="353.76" width="7.55" height="2.94" fill="#fff" stroke="#000" stroke-width="0.7"/>
<line x1="495.49" y1="353.41" x2="495.49" y2="353.09" stroke="#444" stroke-width="0.6"/>
<line x1="493.59" y1="353.09" x2="497.39" y2="353.09" stroke="#222" stroke-width="0.7"/>
<line x1="296.50" y1="266.50" x2="296.50" y2="357.20" stroke="#444" stroke-width="0.8"/>
<line x1="296.10" y1="356.70" x2="504.60" y2="356.70" stroke="#000" stroke-width="1.0"/>
<line x1="294.70" y1="356.70" x2="296.50" y2="356.70" stroke="#222" stroke-width="0.7"/>
<text x="291.85" y="358.71" font-size="7.0" text-anchor="end" class="h">0</text>
<line x1="294.70" y1="343.86" x2="296.50" y2="343.86" stroke="#222" stroke-width="0.7"/>
<text x="291.85" y="345.99" font-size="7.0" text-anchor="end" class="h">20</text>
<line x1="294.70" y1="331.01" x2="296.50" y2="331.01" stroke="#222" stroke-width="0.7"/>
<text x="291.85" y="333.28" font-size="7.0" text-anchor="end" class="h">40</text>
<line x1="294.70" y1="318.17" x2="296.50" y2="318.17" stroke="#222" stroke-width="0.7"/>
<text x="291.85" y="320.56" font-size="7.0" text-anchor="end" class="h">60</text>
<line x1="294.70" y1="305.33" x2="296.50" y2="305.33" stroke="#222" stroke-width="0.7"/>
<text x="291.85" y="307.85" font-size="7.0" text-anchor="end" class="h">80</text>
<line x1="294.70" y1="292.49" x2="296.50" y2="292.49" stroke="#222" stroke-width="0.7"/>
<text x="291.85" y="295.13" font-size="7.0" text-anchor="end" class="h">100</text>
<line x1="294.70" y1="279.64" x2="296.50" y2="279.64" stroke="#222" stroke-width="0.7"/>
<text x="291.85" y="282.42" font-size="7.0" text-anchor="end" class="h">120</text>
<line x1="294.70" y1="266.80" x2="296.50" y2="266.80" stroke="#222" stroke-width="0.7"/>
<text x="291.85" y="269.71" font-size="7.0" text-anchor="end" class="h">140</text>
<line x1="296.00" y1="356.70" x2="296.00" y2="358.90" stroke="#000" stroke-width="0.6"/>
<line x1="330.72" y1="356.70" x2="330.72" y2="358.90" stroke="#000" stroke-width="0.6"/>
<line x1="365.43" y1="356.70" x2="365.43" y2="358.90" stroke="#000" stroke-width="0.6"/>
<line x1="400.15" y1="356.70" x2="400.15" y2="358.90" stroke="#000" stroke-width="0.6"/>
<line x1="434.87" y1="356.70" x2="434.87" y2="358.90" stroke="#000" stroke-width="0.6"/>
<line x1="469.58" y1="356.70" x2="469.58" y2="358.90" stroke="#000" stroke-width="0.6"/>
<line x1="504.30" y1="356.70" x2="504.30" y2="358.90" stroke="#000" stroke-width="0.6"/>
<text x="301.25" y="370.50" font-size="8.6" textLength="25.75" lengthAdjust="spacingAndGlyphs" class="h">B-5833</text>
<text x="338.00" y="370.50" font-size="8.6" textLength="25.75" lengthAdjust="spacingAndGlyphs" class="h">B-3716</text>
<text x="372.50" y="370.50" font-size="8.6" textLength="25.75" lengthAdjust="spacingAndGlyphs" class="h">B-1427</text>
<text x="407.50" y="370.50" font-size="8.6" textLength="21.25" lengthAdjust="spacingAndGlyphs" class="h">B-135</text>
<text x="443.75" y="370.50" font-size="8.6" textLength="16.75" lengthAdjust="spacingAndGlyphs" class="h">B-49</text>
<text x="481.25" y="370.50" font-size="8.6" textLength="16.75" lengthAdjust="spacingAndGlyphs" class="h">B-35</text>
<text x="274.60" y="311.60" font-size="8.5" text-anchor="middle" textLength="92.70" lengthAdjust="spacingAndGlyphs" transform="rotate(-90 274.60 311.60)" class="h">Relative luciferase activity</text>
<text class="h" x="67.30" y="247.90" font-size="8.3" textLength="112.90" lengthAdjust="spacingAndGlyphs"><tspan font-style="italic">MSLN</tspan>-overexpressing cell lines</text>
<text class="h" x="340.30" y="247.70" font-size="8.3" textLength="126.70" lengthAdjust="spacingAndGlyphs"><tspan font-style="italic">MSLN</tspan>-nonoverexpressing cell lines</text>
<rect x="194.60" y="254.00" width="50.60" height="36.40" fill="#fff" stroke="#4a4a4a" stroke-width="0.9"/>
<rect x="201.10" y="258.10" width="4.20" height="4.20" fill="#000" stroke="#000" stroke-width="0.6"/>
<text x="207.30" y="262.50" font-size="7.3" class="h">AsPc1</text>
<rect x="201.10" y="269.40" width="4.20" height="4.20" fill="#b4b4b4" stroke="#000" stroke-width="0.6"/>
<text x="207.30" y="274.20" font-size="7.3" class="h">CAPAN2</text>
<rect x="201.10" y="281.40" width="4.20" height="4.20" fill="#fff" stroke="#000" stroke-width="0.6"/>
<text x="207.30" y="286.00" font-size="7.3" class="h">HeLa</text>
<rect x="451.80" y="253.20" width="53.70" height="36.60" fill="#fff" stroke="#4a4a4a" stroke-width="0.9"/>
<rect x="458.40" y="257.40" width="4.20" height="4.20" fill="#000" stroke="#000" stroke-width="0.6"/>
<text x="464.50" y="261.90" font-size="7.3" class="h">MiaPaCa2</text>
<rect x="458.40" y="269.10" width="4.20" height="4.20" fill="#b4b4b4" stroke="#000" stroke-width="0.6"/>
<text x="464.50" y="274.20" font-size="7.3" class="h">RKO</text>
<rect x="458.40" y="280.80" width="4.20" height="4.20" fill="#fff" stroke="#000" stroke-width="0.6"/>
<text x="464.50" y="285.50" font-size="7.3" class="h">HEK293</text>
<rect x="42.02" y="462.01" width="22.70" height="32.49" fill="#000"/>
<line x1="53.38" y1="462.01" x2="53.38" y2="461.15" stroke="#444" stroke-width="0.6"/>
<line x1="51.48" y1="461.15" x2="55.27" y2="461.15" stroke="#222" stroke-width="0.7"/>
<rect x="79.17" y="462.01" width="22.70" height="32.49" fill="#000"/>
<line x1="90.53" y1="462.01" x2="90.53" y2="459.44" stroke="#444" stroke-width="0.6"/>
<line x1="88.62" y1="459.44" x2="92.43" y2="459.44" stroke="#222" stroke-width="0.7"/>
<rect x="116.33" y="472.09" width="22.70" height="22.41" fill="#000"/>
<line x1="127.68" y1="472.09" x2="127.68" y2="471.45" stroke="#444" stroke-width="0.6"/>
<line x1="125.78" y1="471.45" x2="129.58" y2="471.45" stroke="#222" stroke-width="0.7"/>
<rect x="153.47" y="467.37" width="22.70" height="27.13" fill="#000"/>
<line x1="164.82" y1="467.37" x2="164.82" y2="466.09" stroke="#444" stroke-width="0.6"/>
<line x1="162.92" y1="466.09" x2="166.72" y2="466.09" stroke="#222" stroke-width="0.7"/>
<rect x="190.62" y="463.30" width="22.70" height="31.20" fill="#000"/>
<line x1="201.97" y1="463.30" x2="201.97" y2="461.80" stroke="#444" stroke-width="0.6"/>
<line x1="200.07" y1="461.80" x2="203.88" y2="461.80" stroke="#222" stroke-width="0.7"/>
<rect x="227.78" y="471.66" width="22.70" height="22.84" fill="#000"/>
<line x1="239.12" y1="471.66" x2="239.12" y2="470.80" stroke="#444" stroke-width="0.6"/>
<line x1="237.22" y1="470.80" x2="241.03" y2="470.80" stroke="#222" stroke-width="0.7"/>
<line x1="34.85" y1="407.20" x2="34.85" y2="495.00" stroke="#444" stroke-width="0.8"/>
<line x1="34.45" y1="494.50" x2="258.30" y2="494.50" stroke="#000" stroke-width="1.0"/>
<line x1="33.05" y1="494.50" x2="34.85" y2="494.50" stroke="#222" stroke-width="0.7"/>
<text x="30.20" y="497.17" font-size="7.6" text-anchor="end" class="h">0</text>
<line x1="33.05" y1="472.75" x2="34.85" y2="472.75" stroke="#222" stroke-width="0.7"/>
<text x="30.20" y="475.58" font-size="7.6" text-anchor="end" class="h">1</text>
<line x1="33.05" y1="451.00" x2="34.85" y2="451.00" stroke="#222" stroke-width="0.7"/>
<text x="30.20" y="454.00" font-size="7.6" text-anchor="end" class="h">2</text>
<line x1="33.05" y1="429.25" x2="34.85" y2="429.25" stroke="#222" stroke-width="0.7"/>
<text x="30.20" y="432.41" font-size="7.6" text-anchor="end" class="h">3</text>
<line x1="33.05" y1="407.50" x2="34.85" y2="407.50" stroke="#222" stroke-width="0.7"/>
<text x="30.20" y="410.82" font-size="7.6" text-anchor="end" class="h">4</text>
<line x1="35.10" y1="494.50" x2="35.10" y2="496.70" stroke="#000" stroke-width="0.6"/>
<line x1="72.25" y1="494.50" x2="72.25" y2="496.70" stroke="#000" stroke-width="0.6"/>
<line x1="109.40" y1="494.50" x2="109.40" y2="496.70" stroke="#000" stroke-width="0.6"/>
<line x1="146.55" y1="494.50" x2="146.55" y2="496.70" stroke="#000" stroke-width="0.6"/>
<line x1="183.70" y1="494.50" x2="183.70" y2="496.70" stroke="#000" stroke-width="0.6"/>
<line x1="220.85" y1="494.50" x2="220.85" y2="496.70" stroke="#000" stroke-width="0.6"/>
<line x1="258.00" y1="494.50" x2="258.00" y2="496.70" stroke="#000" stroke-width="0.6"/>
<text x="41.25" y="505.75" font-size="8.6" textLength="23.00" lengthAdjust="spacingAndGlyphs" class="h">AsPc1</text>
<text x="75.00" y="505.75" font-size="8.6" textLength="32.00" lengthAdjust="spacingAndGlyphs" class="h">CAPAN2</text>
<text x="118.75" y="505.75" font-size="8.6" textLength="18.75" lengthAdjust="spacingAndGlyphs" class="h">HeLa</text>
<text x="148.00" y="505.75" font-size="8.6" textLength="37.00" lengthAdjust="spacingAndGlyphs" class="h">MiaPaCa2</text>
<text x="195.00" y="505.75" font-size="8.6" textLength="17.50" lengthAdjust="spacingAndGlyphs" class="h">RKO</text>
<text x="225.75" y="505.75" font-size="8.6" textLength="29.25" lengthAdjust="spacingAndGlyphs" class="h">HEK293</text>
<text x="19.10" y="451.80" font-size="8.2" text-anchor="middle" textLength="100.90" lengthAdjust="spacingAndGlyphs" transform="rotate(-90 19.10 451.80)" class="h">Fold activity/ pGL3-Promoter</text>
<rect x="302.55" y="433.64" width="21.70" height="60.71" fill="#000"/>
<line x1="313.40" y1="433.64" x2="313.40" y2="422.44" stroke="#444" stroke-width="0.6"/>
<line x1="311.50" y1="422.44" x2="315.30" y2="422.44" stroke="#222" stroke-width="0.7"/>
<rect x="337.35" y="452.01" width="21.70" height="42.34" fill="#000"/>
<line x1="348.20" y1="452.01" x2="348.20" y2="446.19" stroke="#444" stroke-width="0.6"/>
<line x1="346.30" y1="446.19" x2="350.10" y2="446.19" stroke="#222" stroke-width="0.7"/>
<rect x="372.15" y="463.21" width="21.70" height="31.14" fill="#000"/>
<line x1="383.00" y1="463.21" x2="383.00" y2="458.73" stroke="#444" stroke-width="0.6"/>
<line x1="381.10" y1="458.73" x2="384.90" y2="458.73" stroke="#222" stroke-width="0.7"/>
<rect x="406.95" y="465.90" width="21.70" height="28.45" fill="#000"/>
<line x1="417.80" y1="465.90" x2="417.80" y2="459.40" stroke="#444" stroke-width="0.6"/>
<line x1="415.90" y1="459.40" x2="419.70" y2="459.40" stroke="#222" stroke-width="0.7"/>
<line x1="295.95" y1="403.20" x2="295.95" y2="494.85" stroke="#444" stroke-width="0.8"/>
<line x1="295.55" y1="494.35" x2="435.50" y2="494.35" stroke="#000" stroke-width="1.0"/>
<line x1="294.15" y1="494.35" x2="295.95" y2="494.35" stroke="#222" stroke-width="0.7"/>
<text x="292.00" y="495.12" font-size="7.6" text-anchor="end" class="h">0</text>
<line x1="294.15" y1="471.64" x2="295.95" y2="471.64" stroke="#222" stroke-width="0.7"/>
<text x="292.00" y="473.25" font-size="7.6" text-anchor="end" class="h">1</text>
<line x1="294.15" y1="448.93" x2="295.95" y2="448.93" stroke="#222" stroke-width="0.7"/>
<text x="292.00" y="451.37" font-size="7.6" text-anchor="end" class="h">2</text>
<line x1="294.15" y1="426.21" x2="295.95" y2="426.21" stroke="#222" stroke-width="0.7"/>
<text x="292.00" y="429.50" font-size="7.6" text-anchor="end" class="h">3</text>
<line x1="294.15" y1="403.50" x2="295.95" y2="403.50" stroke="#222" stroke-width="0.7"/>
<text x="292.00" y="407.62" font-size="7.6" text-anchor="end" class="h">4</text>
<line x1="296.00" y1="494.35" x2="296.00" y2="496.55" stroke="#000" stroke-width="0.6"/>
<line x1="330.80" y1="494.35" x2="330.80" y2="496.55" stroke="#000" stroke-width="0.6"/>
<line x1="365.60" y1="494.35" x2="365.60" y2="496.55" stroke="#000" stroke-width="0.6"/>
<line x1="400.40" y1="494.35" x2="400.40" y2="496.55" stroke="#000" stroke-width="0.6"/>
<line x1="435.20" y1="494.35" x2="435.20" y2="496.55" stroke="#000" stroke-width="0.6"/>
<text x="297.00" y="505.75" font-size="8.6" textLength="32.50" lengthAdjust="spacingAndGlyphs" class="h">OVCAR3</text>
<text x="338.75" y="505.75" font-size="8.6" textLength="18.75" lengthAdjust="spacingAndGlyphs" class="h">211H</text>
<text x="373.75" y="505.75" font-size="8.6" textLength="18.75" lengthAdjust="spacingAndGlyphs" class="h">H513</text>
<text x="410.00" y="505.75" font-size="8.6" textLength="20.20" lengthAdjust="spacingAndGlyphs" class="h">BJAB</text>
<text x="284.20" y="448.30" font-size="8.2" text-anchor="middle" textLength="64.00" lengthAdjust="spacingAndGlyphs" transform="rotate(-90 284.20 448.30)" class="h">Fold activity/ B-49</text>
<rect x="0.00" y="0.00" width="520.00" height="0.80" fill="#505050"/>
<rect x="0.00" y="0.00" width="0.95" height="518.00" fill="#5c5c5c"/>
<rect x="519.00" y="0.00" width="1.00" height="518.00" fill="#585858"/>
<rect x="0.00" y="516.70" width="520.00" height="1.30" fill="#4a4a4a"/>
</svg>
</div>
</body>
</html>
